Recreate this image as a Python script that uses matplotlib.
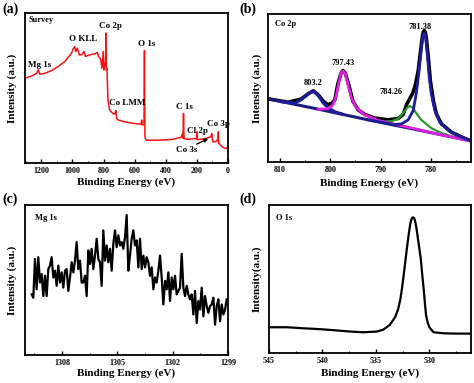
import matplotlib
matplotlib.use('Agg')
import matplotlib.pyplot as plt
from matplotlib.ticker import AutoMinorLocator
import numpy as np

plt.rcParams['font.family'] = ['Liberation Serif', 'DejaVu Serif']
plt.rcParams['font.weight'] = 'bold'

# (a) survey spectrum, binding energy (eV) and intensity (a.u.)
survey_ev = [1305, 1262, 1230, 1220, 1209, 1177, 1134, 1092, 1049, 1006, 996, 985, 979, 968, 957,
             942, 925, 917, 889, 857, 840, 832, 819, 810, 802, 797, 791, 787, 785, 782, 778, 772,
             761, 740, 728, 721, 715, 704, 665, 601, 559, 555, 550, 540, 537, 534, 529, 525, 452,
             367, 303, 292, 289, 286, 283, 279, 260, 207, 202, 200, 198, 194, 154, 111, 104, 98,
             79, 68, 64, 62, 60, 55, 36, 15, 0]
survey_int = [56.5, 58.0, 59.8, 62.0, 59.2, 59.8, 61.6, 64.3, 67.6, 73.2, 75.9, 77.7, 74.3, 76.6, 72.1,
              72.1, 74.3, 71.0, 72.1, 72.8, 73.7, 71.0, 69.2, 63.2, 74.3, 62.0, 66.5, 66.0, 86.6, 62.0, 63.2, 42.0,
              35.3, 33.0, 32.6, 35.0, 29.5, 28.6, 27.5, 26.3, 25.9, 28.6, 25.2, 26.0, 75.0, 17.4, 16.0, 15.2, 15.2,
              15.6, 17.0, 19.6, 16.5, 33.0, 16.3, 16.3, 15.8, 16.3, 16.0, 20.8, 15.6, 15.6, 16.1, 17.4, 19.6, 14.1,
              14.1, 15.6, 15.0, 20.8, 13.0, 12.9, 10.7, 9.6, 10.7]

# (b) Co 2p fitted spectrum
bg_ev = [812.4, 802.4, 792.5, 782.5, 772.0]
bg_int = [42.7, 35.7, 28.5, 21.6, 14.2]
p803_ev = [809.7, 807.1, 805.8, 804.8, 804.1, 803.7, 803.4, 803.1, 802.8, 802.1, 801.4, 800.4, 799.1, 797.8]
p803_int = [40.7, 39.8, 42.0, 44.9, 46.7, 47.4, 47.6, 47.3, 46.5, 43.4, 39.8, 36.6, 33.9, 32.6]
p797_ev = [802.4, 800.4, 799.5, 798.8, 798.3, 797.9, 797.7, 797.5, 797.3, 797.0, 796.5, 795.8, 794.8,
           793.1, 790.5, 785.8, 779.2, 772.6]
p797_int = [35.5, 36.2, 38.4, 44.9, 53.9, 59.6, 60.9, 61.3, 60.9, 59.6, 52.4, 43.4, 36.4,
            31.9, 28.1, 24.5, 19.3, 14.6]
p781_ev = [792.5, 787.2, 785.8, 784.5, 783.5, 782.9, 782.4, 782.0, 781.7, 781.5, 781.3, 781.1, 781.0,
           780.7, 780.3, 779.9, 779.2, 778.2, 776.5, 774.6, 772.0]
p781_int = [28.5, 25.2, 25.8, 28.5, 34.8, 46.1, 59.6, 73.0, 82.0, 85.8, 87.0, 85.8, 83.1,
            73.0, 57.3, 46.1, 34.8, 27.0, 21.3, 17.8, 14.2]
p784_ev = [789.8, 787.8, 786.5, 785.5, 784.8, 784.2, 783.7, 782.9, 781.9, 779.9, 777.9, 775.2, 772.6]
p784_int = [27.2, 27.6, 29.2, 33.0, 36.2, 37.8, 36.9, 33.0, 28.5, 22.9, 19.6, 16.6, 14.4]
env_ev = [812.4, 808.4, 805.8, 804.4, 803.4, 802.4, 801.4, 800.6, 799.8, 799.1, 798.5, 797.9,
          797.5, 797.0, 796.3, 795.5, 794.5, 793.1, 791.2, 788.5, 786.5, 785.5, 784.8, 784.2,
          783.6, 783.1, 782.5, 782.1, 781.7, 781.5, 781.3, 781.1, 780.9, 780.5, 780.1, 779.5,
          778.9, 777.9, 775.9, 773.9, 772.0]
env_int = [42.7, 40.4, 42.5, 46.1, 48.1, 45.4, 41.1, 38.9, 39.3, 42.0, 52.8, 59.6,
           61.8, 60.0, 51.7, 41.1, 35.3, 32.1, 29.7, 28.5, 29.4, 32.1, 38.9, 42.7,
           46.5, 51.7, 61.8, 73.0, 84.3, 87.8, 88.8, 87.6, 83.8, 70.8, 55.1, 41.6,
           32.6, 25.8, 20.2, 16.9, 14.2]
peak_labels = ['803.2', '797.43', '784.26', '781.38']

# (c) Mg 1s scan, 1309.64 -> 1299.07 eV
mg_int = [40.4, 38.2, 64.0, 43.8, 65.2, 48.3, 53.9, 39.3, 52.8, 39.3, 57.3, 59.6, 65.2, 51.7, 56.2,
          46.1, 59.6, 48.3, 55.1, 44.9, 56.2, 57.3, 42.7, 51.7, 61.8, 55.1, 62.9, 75.3, 57.3, 62.9,
          48.3, 48.3, 52.8, 39.3, 69.7, 60.7, 70.8, 57.3, 66.3, 77.5, 64.0, 61.8, 46.1, 83.1, 62.9,
          73.0, 61.8, 70.8, 56.2, 74.2, 83.1, 71.9, 79.8, 73.0, 75.3, 70.8, 78.7, 93.3, 56.2, 66.3,
          77.5, 83.1, 73.0, 76.4, 58.4, 77.5, 57.3, 66.3, 58.4, 65.2, 61.8, 52.8, 58.4, 43.8, 51.7,
          48.3, 56.2, 66.3, 51.7, 33.7, 49.4, 43.8, 55.1, 36.0, 51.7, 43.8, 52.8, 40.4, 42.7, 44.9,
          67.4, 44.9, 39.3, 46.1, 40.4, 37.1, 40.4, 27.0, 42.7, 21.3, 36.0, 30.3, 44.9, 25.8, 39.3,
          32.6, 28.1, 32.6, 33.7, 38.2, 20.2, 32.6, 37.1, 22.5, 33.7, 27.0, 30.3, 37.1]
mg_ev = np.linspace(1309.64, 1299.07, len(mg_int))

# (d) O 1s
o_ev = [544.9, 543.3, 541.8, 540.2, 539.3, 538.6, 537.4, 536.2, 534.9, 534.3, 533.7, 533.2, 532.9,
        532.7, 532.55, 532.4, 532.25, 532.1, 531.95, 531.8, 531.7, 531.6, 531.5, 531.4, 531.3, 531.2,
        531.0, 530.8, 530.65, 530.5, 530.4, 530.3, 530.15, 530.0, 529.6, 528.6, 527.4, 526.1]
o_int = [17.4, 17.4, 16.7, 16.1, 15.6, 15.2, 14.5, 14.0, 14.5, 15.8, 19.0, 24.2, 30.0,
         36.7, 44.0, 52.5, 61.5, 70.6, 79.0, 86.4, 89.8, 91.4, 91.6, 90.9, 88.2, 84.2,
         74.0, 63.8, 52.0, 41.2, 32.5, 25.3, 20.5, 17.4, 14.0, 13.3, 13.1, 13.1]

W, H = 474, 383
fig = plt.figure(figsize=(W / 100, H / 100), dpi=100)


def make_ax(l, t, r, b):
    return fig.add_axes([l / W, 1 - b / H, (r - l) / W, (b - t) / H])


def style(ax, xlim, ylab, xlab_y, ylab_x):
    ax.set_xlim(*xlim)
    ax.set_ylim(0, 100)
    ax.set_yticks([])
    ax.xaxis.set_minor_locator(AutoMinorLocator(2))
    ax.tick_params(axis='x', which='major', direction='in', length=3, width=1, labelsize=5.8, pad=3)
    ax.tick_params(axis='x', which='minor', direction='in', length=1.5, width=0.8)
    for s in ax.spines.values():
        s.set_linewidth(1.3)
    for lab in ax.get_xticklabels():
        lab.set_fontweight('bold')
    ax.set_xlabel('Binding Energy (eV)', fontsize=8, fontweight='bold', va='center')
    ax.xaxis.set_label_coords(0.5, xlab_y)
    ax.set_ylabel(ylab, fontsize=8, fontweight='bold', va='center')
    ax.yaxis.set_label_coords(ylab_x, 0.5)


txt = dict(fontsize=6.5, fontweight='bold')

# (a)
ax = make_ax(25, 13, 228, 163)
ax.plot(survey_ev, survey_int, color='#f41414', lw=1.1)
style(ax, (1305, 0), 'Intensity (a.u.)', -0.125, -0.064)
ax.set_xticks([1200, 1000, 800, 600, 400, 200, 0])
ax.text(0.02, 0.95, 'Survey', transform=ax.transAxes, va='center', fontsize=6, fontweight='bold')
ax.text(1284, 65.5, 'Mg 1s', va='center', **txt)
ax.text(1022, 82.6, 'O KLL', va='center', **txt)
ax.text(831, 91, 'Co 2p', va='center', **txt)
ax.text(580, 79, 'O 1s', va='center', **txt)
ax.text(766, 39.7, 'Co LMM', va='center', **txt)
ax.text(335, 37.5, 'C 1s', va='center', **txt)
ax.text(266, 21.4, 'Cl 2p', va='center', **txt)
ax.text(138, 26.3, 'Co 3p', va='center', **txt)
ax.text(335, 8.5, 'Co 3s', va='center', **txt)
ax.annotate('', xy=(111, 17.0), xytext=(218, 11.8),
            arrowprops=dict(arrowstyle='-|>', color='black', lw=1.0, mutation_scale=5))
fig.text(2 / W, 1 - 9 / H, '(a)', fontsize=10, fontweight='bold', va='center')

# (b)
ax = make_ax(268, 14, 471, 162)
ax.plot(env_ev, env_int, color='black', lw=2.6)
ax.plot(bg_ev, bg_int, color='#1c1c7c', lw=2.2)
ax.plot(p803_ev, p803_int, color='#1c1c9c', lw=2.2)
ax.plot(p784_ev, p784_int, color='#2a9a2a', lw=1.6)
ax.plot(p797_ev, p797_int, color='#e020e0', lw=2.0)
ax.plot(p781_ev, p781_int, color='#1c1c9c', lw=2.0)
style(ax, (812.4, 772.0), 'Intensity (a.u.)', -0.142, -0.054)
ax.set_xticks([810, 800, 790, 780])
ax.text(0.033, 0.933, 'Co 2p', transform=ax.transAxes, va='center', fontsize=6, fontweight='bold')
ax.text(803.4, 53.3, peak_labels[0], ha='center', va='center', fontsize=6, fontweight='bold')
ax.text(797.4, 66.7, peak_labels[1], ha='center', va='center', fontsize=6, fontweight='bold')
ax.text(787.9, 47.2, peak_labels[2], ha='center', va='center', fontsize=6, fontweight='bold')
ax.text(782.2, 91.0, peak_labels[3], ha='center', va='center', fontsize=6, fontweight='bold')
fig.text(239 / W, 1 - 9 / H, '(b)', fontsize=10, fontweight='bold', va='center')

# (c)
ax = make_ax(25, 205, 228, 355)
ax.plot(mg_ev, mg_int, color='black', lw=1.6)
style(ax, (1310, 1299), 'Intensity (a.u.)', -0.12, -0.062)
ax.set_xticks([1308, 1305, 1302, 1299])
ax.text(0.05, 0.915, 'Mg 1s', transform=ax.transAxes, va='center', fontsize=6, fontweight='bold')
fig.text(2 / W, 1 - 199 / H, '(c)', fontsize=10, fontweight='bold', va='center')

# (d)
ax = make_ax(269, 205, 471, 353)
ax.plot(o_ev, o_int, color='black', lw=1.6)
style(ax, (545, 526.1), 'Intensity(a.u.)', -0.135, -0.059)
ax.set_xticks([545, 540, 535, 530])
ax.text(0.035, 0.914, 'O 1s', transform=ax.transAxes, va='center', fontsize=6, fontweight='bold')
fig.text(239 / W, 1 - 199 / H, '(d)', fontsize=10, fontweight='bold', va='center')

fig.savefig('out.png', dpi=100)
